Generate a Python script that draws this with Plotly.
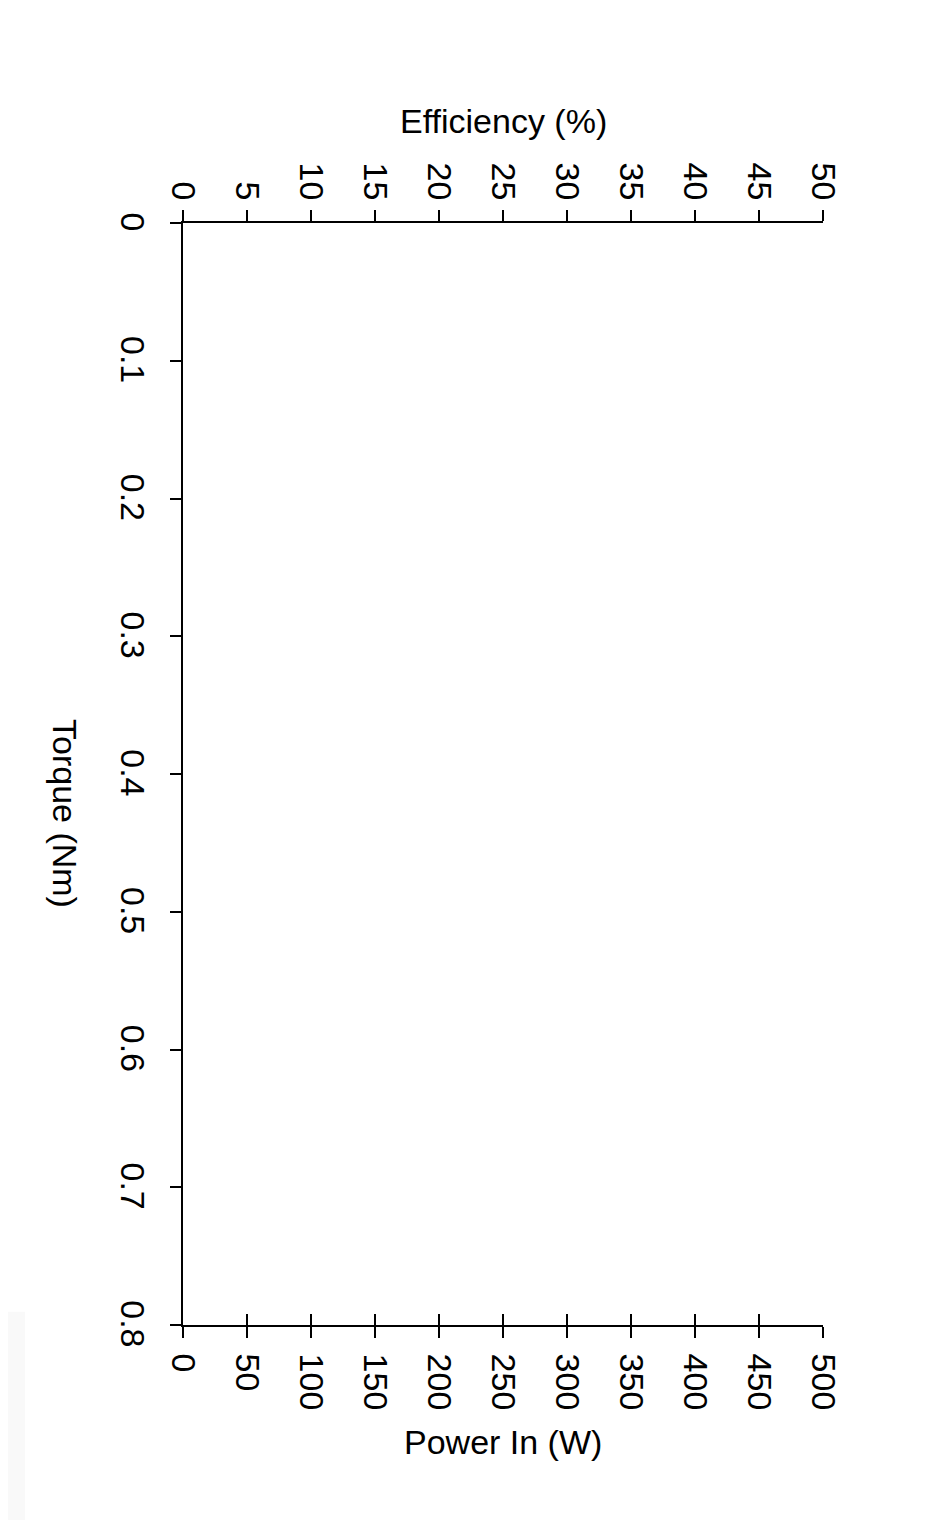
import plotly.graph_objects as go

# ── AXIS SCALES (empty motor test sheet) ─────────────────────────
torque_ticks = [0, 0.1, 0.2, 0.3, 0.4, 0.5, 0.6, 0.7, 0.8]
torque_labels = ['0', '0.1', '0.2', '0.3', '0.4', '0.5', '0.6', '0.7', '0.8']
efficiency_ticks = [0, 5, 10, 15, 20, 25, 30, 35, 40, 45, 50]
power_ticks = [0, 50, 100, 150, 200, 250, 300, 350, 400, 450, 500]

# no measurements recorded yet
torque = []
efficiency = []
power_in = []

FONT = dict(family='Liberation Sans, Arial, sans-serif', size=34, color='black')
LINE = 'black'

fig = go.Figure()
fig.add_trace(go.Scatter(x=power_in, y=torque, xaxis='x', yaxis='y',
                         mode='lines', showlegend=False))
fig.add_trace(go.Scatter(x=efficiency, y=torque, xaxis='x2', yaxis='y',
                         mode='lines', showlegend=False))
fig.add_trace(go.Scatter(x=power_in, y=torque, xaxis='x3', yaxis='y',
                         mode='lines', showlegend=False))

axis_common = dict(showgrid=False, zeroline=False, showline=True,
                   linecolor=LINE, linewidth=1.6, tickcolor=LINE,
                   tickwidth=1.6, ticklen=11, tickfont=FONT)

# page body adds 8px, so margins are 8px smaller on left/top
fig.update_layout(
    width=952, height=1520,
    margin=dict(l=175, r=137, t=215, b=203),
    paper_bgcolor='white', plot_bgcolor='white',
    font=FONT,
    showlegend=False,
    # power in, bottom
    xaxis=dict(axis_common, range=[0, 500], tickvals=power_ticks,
               ticks='outside', tickangle=90, side='bottom', anchor='y',
               ticklabelstandoff=9),
    # efficiency, top
    xaxis2=dict(axis_common, range=[0, 50], tickvals=efficiency_ticks,
                ticks='outside', tickangle=90, side='top', anchor='y',
                overlaying='x', ticklabelstandoff=-2),
    # inward half of the crossing ticks on the bottom axis
    xaxis3=dict(axis_common, range=[0, 500], tickvals=power_ticks,
                ticks='inside', showticklabels=False, side='bottom',
                anchor='y', overlaying='x'),
    yaxis=dict(axis_common, range=[0.8, 0], tickvals=torque_ticks,
               ticktext=torque_labels, ticks='outside', tickangle=90,
               ticklabelstandoff=8, ticklabelshift=-4, mirror=False),
)

# axis titles (torque title reads top to bottom, like the tick labels)
fig.add_annotation(text='Efficiency (%)', xref='paper', yref='paper',
                   x=0.5, y=1, yshift=102, xanchor='center', yanchor='middle',
                   showarrow=False, font=FONT)
fig.add_annotation(text='Power In (W)', xref='paper', yref='paper',
                   x=0.5, y=0, yshift=-117, xanchor='center', yanchor='middle',
                   showarrow=False, font=FONT)
fig.add_annotation(text='Torque (Nm)', xref='paper', yref='paper',
                   x=0, y=0.4646, xshift=-118, textangle=90,
                   xanchor='center', yanchor='middle',
                   showarrow=False, font=FONT)

# faint page shadow in the lower left corner
fig.add_shape(type='rect', xref='paper', yref='paper',
              x0=-183 / 640, x1=-158 / 640, y0=-0.18, y1=0.012,
              fillcolor='#f9f9f9', line=dict(width=0), layer='below')

fig.write_html('out.html')
